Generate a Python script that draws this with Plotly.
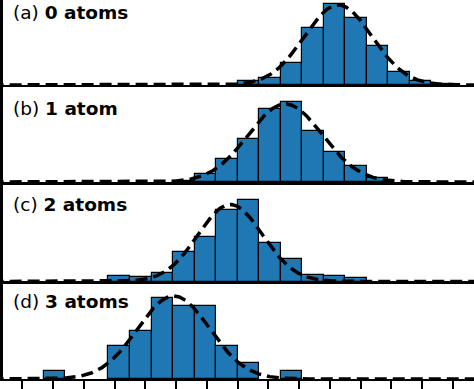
import numpy as np
import plotly.graph_objects as go

# ---------------- data ----------------
BIN_WIDTH = 0.7
panel_labels = ["(a) <b>0 atoms</b>", "(b) <b>1 atom</b>", "(c) <b>2 atoms</b>", "(d) <b>3 atoms</b>"]

bins_a = [10, 11, 12, 13, 14, 15, 16, 17, 18, 19]
counts_a = [4, 7, 21.7, 57, 80.7, 66.7, 39, 13.3, 4, 1]

bins_b = [7, 8, 9, 10, 11, 12, 13, 14, 15, 16]
counts_b = [1, 8, 23, 42.7, 73, 79.7, 51, 29.7, 16.3, 4]

bins_c = [4, 5, 6, 7, 8, 9, 10, 11, 12, 13, 14, 15]
counts_c = [5.5, 4.5, 9, 30, 45, 72, 81.7, 39, 22.7, 7, 5.5, 3.5]

bins_d = [1, 4, 5, 6, 7, 8, 9, 10, 12]
counts_d = [8, 33, 48.3, 81.3, 73.3, 73.3, 33, 16.3, 8]

# Gaussian fit parameters (mean, sigma, amplitude)
fit_mean = [10.27, 8.55, 6.76, 4.92]
fit_sigma = [1.1, 1.2, 1.05, 1.17]
fit_amp = [80, 78, 77, 83]

tick_vals = list(range(0, 15))

# ---------------- layout geometry ----------------
W, H = 474, 389
ML, MR, MT, MB = 3, 0, 0, 10
PH = H - MT - MB  # plot height in px

def dom(top_px, bot_px):
    return [(PH - bot_px) / PH, (PH - top_px) / PH]

panels_px = [(0, 85), (87, 182), (185, 281.5), (283, 379)]
y_ranges = [85, 95, 96.5, 96]

bins_all = [bins_a, bins_b, bins_c, bins_d]
counts_all = [counts_a, counts_b, counts_c, counts_d]

fig = go.Figure()
xr = [-0.63, (W - 21.7) / 30.8]
xfine = np.linspace(-1, 16, 800)

layout = dict(width=W, height=H, margin=dict(l=ML, r=MR, t=MT, b=MB),
              paper_bgcolor="white", plot_bgcolor="white", showlegend=False,
              bargap=0)
annotations = []
for i in range(4):
    sfx = "" if i == 0 else str(i + 1)
    xa, ya = "x" + sfx, "y" + sfx
    centers = [BIN_WIDTH * k + BIN_WIDTH / 2 for k in bins_all[i]]
    fig.add_trace(go.Bar(x=centers, y=counts_all[i], width=BIN_WIDTH,
                         marker=dict(color="#1f77b4", line=dict(color="black", width=1.2)),
                         xaxis=xa, yaxis=ya, hoverinfo="skip"))
    yfit = fit_amp[i] * np.exp(-(xfine - fit_mean[i]) ** 2 / (2 * fit_sigma[i] ** 2))
    fig.add_trace(go.Scatter(x=xfine, y=yfit, mode="lines",
                             line=dict(color="black", width=3.5, dash="12px,6px"),
                             xaxis=xa, yaxis=ya, hoverinfo="skip"))
    last = i == 3
    layout["xaxis" + sfx] = dict(domain=[0, 1], range=xr, anchor=ya,
                                 showgrid=False, zeroline=False,
                                 showline=True, linecolor="black", linewidth=2,
                                 mirror=(i > 0),
                                 showticklabels=False,
                                 ticks="outside" if last else "",
                                 tickvals=tick_vals if last else [],
                                 ticklen=10, tickwidth=1.5, tickcolor="black")
    layout["yaxis" + sfx] = dict(domain=dom(*panels_px[i]), range=[0, y_ranges[i]],
                                 anchor=xa, showgrid=False, zeroline=False,
                                 showline=True, linecolor="black", linewidth=2.5,
                                 showticklabels=False, ticks="")
    label_top = [0, 96, 192, 289][i]
    annotations.append(dict(text=panel_labels[i], xref="paper", yref="paper",
                            x=(11 - ML) / (W - ML), y=(PH - label_top) / PH,
                            xanchor="left", yanchor="top", showarrow=False,
                            font=dict(family="DejaVu Sans", size=18.5, color="black")))

layout["annotations"] = annotations
fig.update_layout(**layout)
fig.write_html("out.html", config={"displayModeBar": False},
               post_script="document.body.style.margin='0';document.body.style.overflow='hidden';")
